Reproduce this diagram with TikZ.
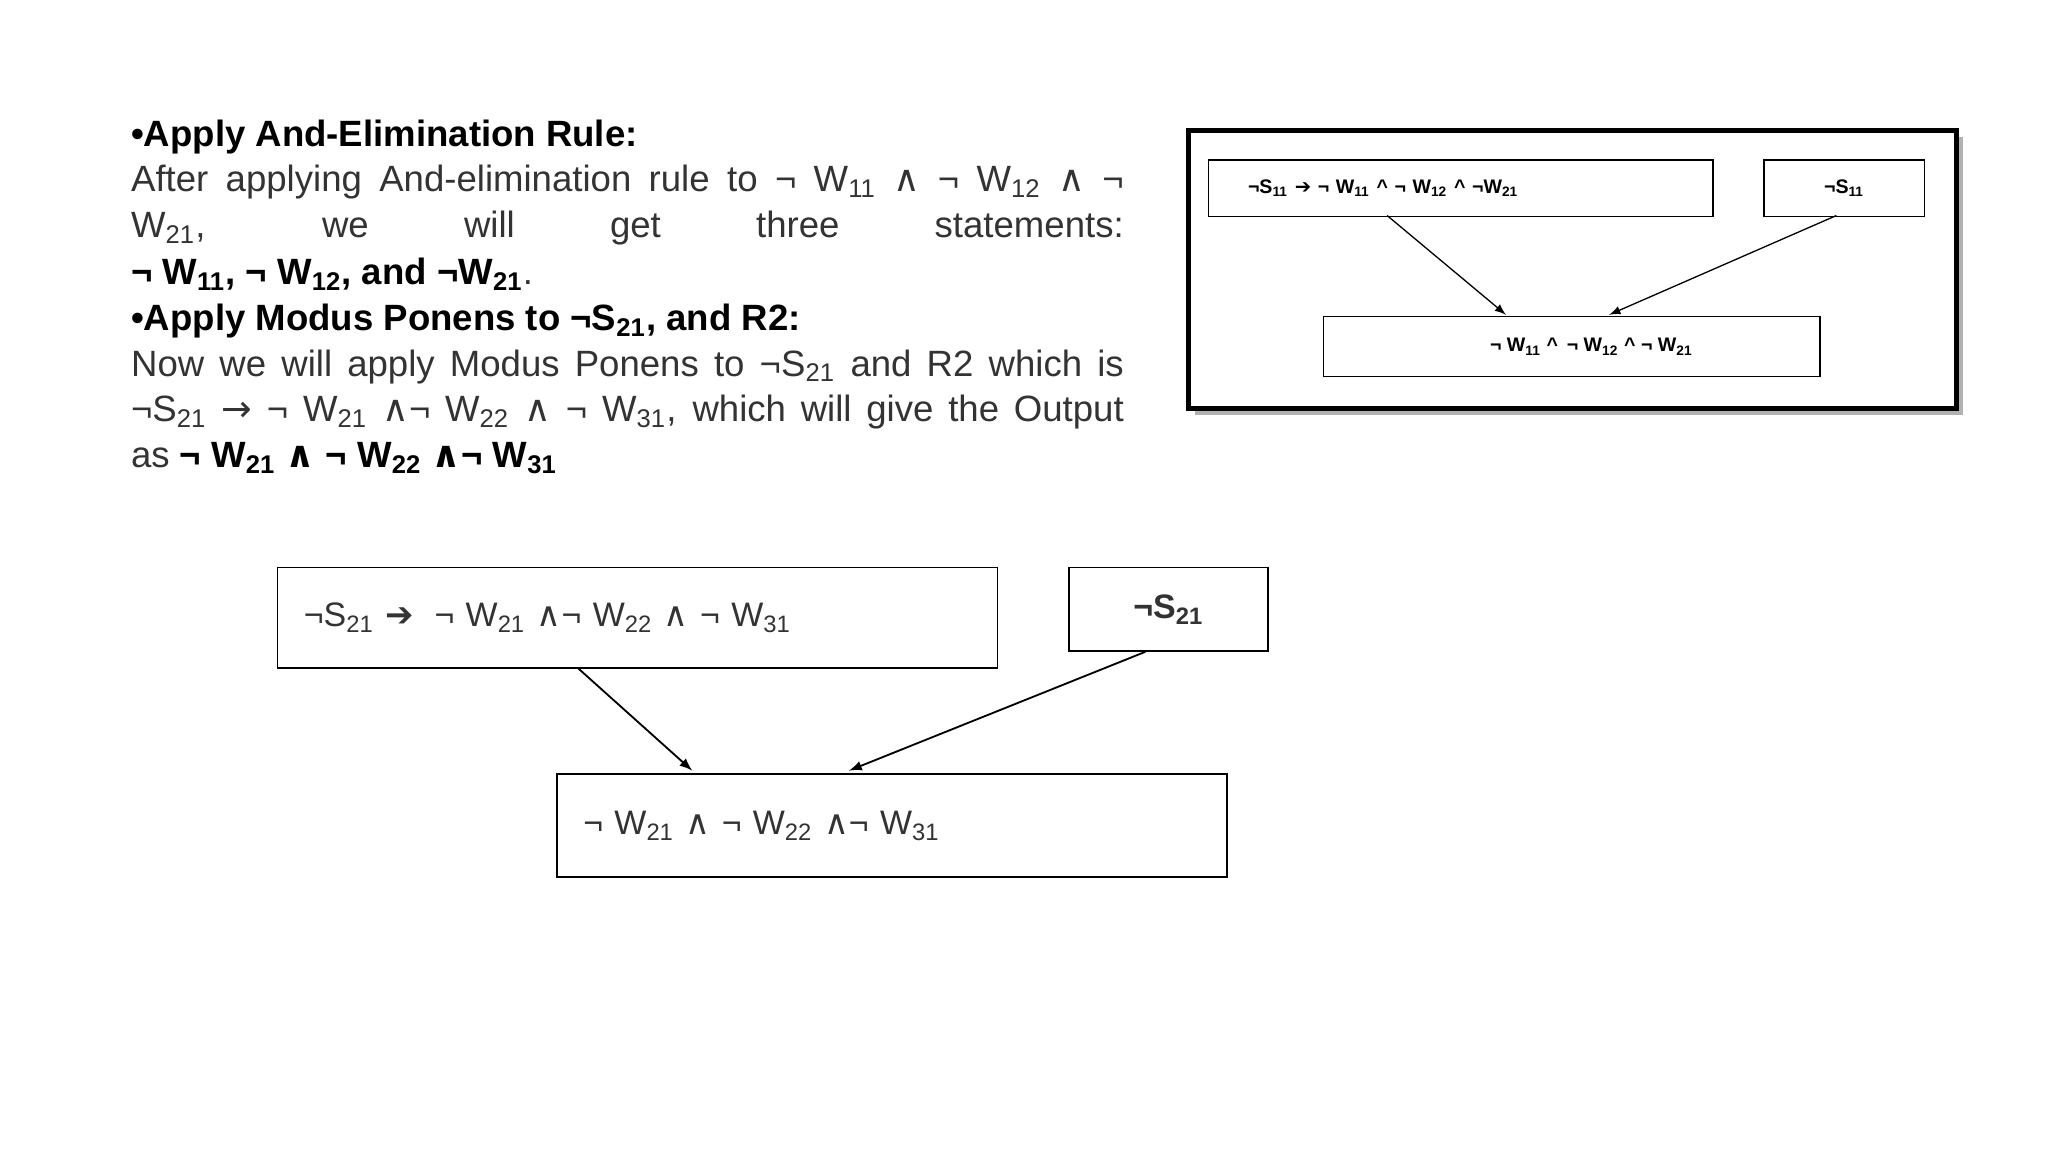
\documentclass[tikz,border=0pt]{standalone}
\usepackage{fontspec}
\setmainfont{Liberation Sans}
\newfontfamily\djv{DejaVu Sans}
\newcommand{\aand}{{\djv ∧}}
\newcommand{\arr}{{\djv →}}
\newcommand{\harr}{{\djv ➔}}
\newcommand{\sub}[1]{\textsubscript{#1}}
\definecolor{body}{HTML}{333333}
\begin{document}
\begin{tikzpicture}[x=0.5pt,y=-0.5pt,
  txt/.style={anchor=base west,inner sep=0pt,font=\fontsize{14}{17}\selectfont,text=body},
  sbox/.style={draw,line width=0.5pt,anchor=north west,inner sep=0pt,font=\fontsize{7.5}{9}\selectfont\bfseries},
  bbox/.style={draw,line width=0.6pt,anchor=north west,inner sep=0pt,font=\fontsize{13}{15}\selectfont,text=body},
  arw/.style={-latex,line width=0.5pt}]
\useasboundingbox (0,0) rectangle (1568,882);
\def\W{380pt}
% text
\node[txt,text=black] (l1) at (100,112) {\textbf{•Apply And-Elimination Rule:}};
\node[txt] (l2) at (100,147) {\hbox to \W{After applying And-elimination rule to ¬ W\sub{11} \aand{} ¬ W\sub{12} \aand{} ¬}};
\node[txt] (l3) at (100,182) {\hbox to \W{W\sub{21}, we will get three statements:}};
\node[txt] (l4) at (100,218) {\textcolor{black}{\textbf{¬ W\sub{11}, ¬ W\sub{12}, and ¬W\sub{21}}}.};
\node[txt,text=black] (l5) at (100,253) {\textbf{•Apply Modus Ponens to ¬S\sub{21}, and R2:}};
\node[txt] (l6) at (100,288) {\hbox to \W{Now we will apply Modus Ponens to ¬S\sub{21} and R2 which is}};
\node[txt] (l7) at (100,323) {\hbox to \W{¬S\sub{21} \arr{} ¬ W\sub{21} \aand¬ W\sub{22} \aand{} ¬ W\sub{31}, which will give the Output}};
\node[txt] (l8) at (100,358) {as \textcolor{black}{\textbf{¬ W\sub{21} \aand{} ¬ W\sub{22} \aand¬ W\sub{31}}}};
% top-right frame
\fill[gray!60] (915,105) rectangle (1503,318);
\draw[line width=2pt,fill=white] (910,100) rectangle (1498,313);
\node[sbox,minimum width=193pt,minimum height=21.5pt,text width=163pt,inner xsep=15pt,align=left] (A) at (925,122) {¬S\sub{11} \harr{} ¬ W\sub{11} \^{} ¬ W\sub{12} \^{} ¬W\sub{21}};
\node[sbox,minimum width=61.5pt,minimum height=21.5pt] (B) at (1350,122) {¬S\sub{11}};
\node[sbox,minimum width=190pt,minimum height=23pt] (C) at (1013,242) {\hspace*{15pt}¬ W\sub{11} \^{}\, ¬ W\sub{12} \^{} ¬ W\sub{21}};
\coordinate (a1) at (1062,165); \coordinate (c1) at (1153,241);
\coordinate (b1) at (1406,165); \coordinate (c2) at (1232,241);
\draw[arw] (a1) -- (c1);
\draw[arw] (b1) -- (c2);
% bottom diagram
\node[bbox,minimum width=275.5pt,minimum height=38.5pt,text width=255.5pt,inner xsep=10pt,align=left] (D) at (212,434) {¬S\sub{21} \harr{}\; ¬ W\sub{21} \aand¬ W\sub{22} \aand{} ¬ W\sub{31}};
\node[bbox,minimum width=76pt,minimum height=32pt,font=\fontsize{13}{15}\selectfont\bfseries] (E) at (818,434) {¬S\sub{21}};
\node[bbox,minimum width=256.5pt,minimum height=39.5pt,text width=236.5pt,inner xsep=10pt,align=left] (F) at (426,592) {¬ W\sub{21} \aand{} ¬ W\sub{22} \aand¬ W\sub{31}};
\coordinate (d1) at (443,512); \coordinate (f1) at (530,590);
\coordinate (e1) at (877,499); \coordinate (f2) at (650,590);
\draw[arw,line width=0.7pt] (d1) -- (f1);
\draw[arw,line width=0.7pt] (e1) -- (f2);
\end{tikzpicture}
\end{document}
